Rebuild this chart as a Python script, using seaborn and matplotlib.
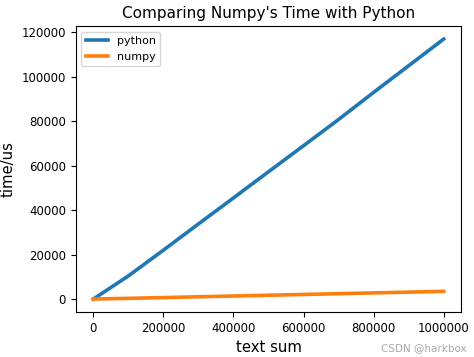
import matplotlib
matplotlib.use("Agg")
import matplotlib.pyplot as plt
import pandas as pd
import seaborn as sns

# data
sizes = [0, 100000, 200000, 300000, 400000, 500000, 600000, 700000, 800000, 900000, 1000000]
python_us = [0, 10400, 22000, 33800, 45500, 57300, 69000, 80800, 93000, 105000, 117000]
numpy_us = [0, 300, 650, 1000, 1350, 1700, 2050, 2400, 2750, 3100, 3450]

df = pd.DataFrame({
    "size": sizes * 2,
    "time": python_us + numpy_us,
    "lib": ["python"] * len(sizes) + ["numpy"] * len(sizes),
})

fig = plt.figure(figsize=(4.74, 3.57), dpi=100)
ax = fig.add_axes([0.160, 0.126, 0.813, 0.801])

sns.lineplot(data=df, x="size", y="time", hue="lib",
             palette=["#1f77b4", "#ff7f0e"], linewidth=2.6, ax=ax)

ax.set_title("Comparing Numpy's Time with Python", fontsize=11)
ax.set_xlabel("text sum", fontsize=10.7)
ax.set_ylabel("time/us", fontsize=10.7)
ax.tick_params(labelsize=8.5)
ax.ticklabel_format(style="plain")
ax.legend(title=None, loc="upper left", fontsize=8)

fig.text(0.985, 0.012, "CSDN @harkbox", ha="right", va="bottom",
         fontsize=7.5, color="#aaaaaa")

fig.savefig("out.png", dpi=100)
